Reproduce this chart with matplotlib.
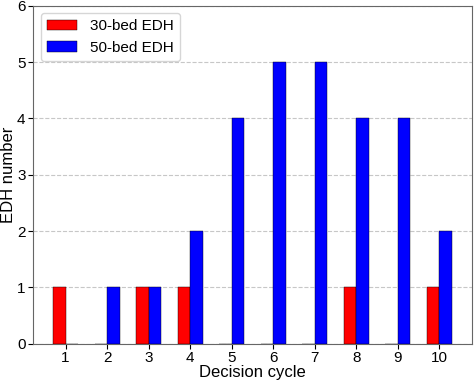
import numpy as np
import matplotlib
matplotlib.use('Agg')
import matplotlib.pyplot as plt

plt.rcParams['font.family'] = ['Liberation Sans', 'DejaVu Sans']

cycles = [1, 2, 3, 4, 5, 6, 7, 8, 9, 10]
edh_30 = [1, 0, 1, 1, 0, 0, 0, 1, 0, 1]
edh_50 = [0, 1, 1, 2, 4, 5, 5, 4, 4, 2]

fig, ax = plt.subplots(figsize=(4.74, 3.82), dpi=100)
x = np.array(cycles)
w = 0.3
ax.bar(x - w / 2, edh_30, width=w, color='red', edgecolor='black', linewidth=0.3, label='30-bed EDH', zorder=3)
ax.bar(x + w / 2, edh_50, width=w, color='blue', edgecolor='black', linewidth=0.3, label='50-bed EDH', zorder=3)

ax.set_ylim(0, 6)
ax.set_xticks(cycles)
ax.set_xlabel('Decision cycle', fontsize=12, labelpad=0)
ax.set_ylabel('EDH number', fontsize=12, labelpad=1)
ax.tick_params(labelsize=11, pad=2)
ax.grid(axis='y', linestyle='--', alpha=0.7, zorder=0)
for s in ax.spines.values():
    s.set_color('#666666')
ax.legend(loc='upper left', fontsize=11)

plt.subplots_adjust(left=0.07, right=0.995, top=0.985, bottom=0.1)
plt.savefig('out.png', dpi=100)
